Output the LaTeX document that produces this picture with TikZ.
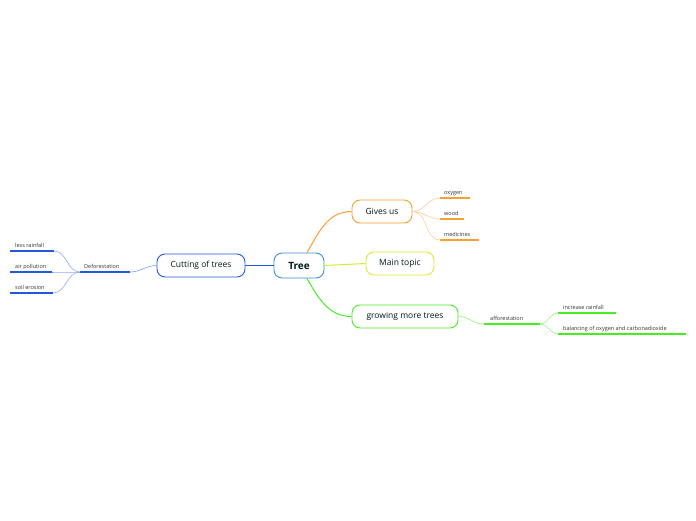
\documentclass[tikz,border=0pt]{standalone}
\usepackage{fontspec}
\setmainfont{Open Sans}
\begin{document}
\begin{tikzpicture}[x=1pt,y=-1pt,
 topic/.style={draw=#1,line width=0.9pt,rounded corners=8pt,fill=white,font=\fontsize{8.5}{10}\selectfont,text=black!80!teal,inner sep=0pt},
 leaf/.style={font=\fontsize{5.5}{7}\selectfont,text=black!80,anchor=base west,inner sep=0pt},
 uline/.style={draw=#1,line width=1.4pt},
 conn/.style={draw=#1,line width=0.6pt}]
\useasboundingbox (0,0) rectangle (696,520);
\definecolor{cb}{HTML}{3C8FD8}\definecolor{co}{HTML}{F5A030}\definecolor{cy}{HTML}{CCEE33}
\definecolor{cg}{HTML}{44EE22}\definecolor{cd}{HTML}{2258E0}
\node[topic=cb,minimum width=50pt,minimum height=25pt,font=\fontsize{10}{12}\selectfont\bfseries] (tree) at (299,265.5) {Tree};
\node[topic=co,minimum width=60pt,minimum height=23pt] (give) at (382,211.5) {Gives us};
\node[topic=cy,minimum width=68pt,minimum height=23pt] (main) at (400,263.5) {Main topic};
\node[topic=cg,minimum width=106pt,minimum height=23pt] (grow) at (405,316.5) {growing more trees};
\node[topic=cd,minimum width=88pt,minimum height=23pt] (cut) at (201,265.5) {Cutting of trees};
% branch to topics
\draw[conn=co,line width=1pt] (tree.north)++(8,0) coordinate (t1) (t1) to[out=60,in=180] (give.west);
\draw[conn=cy,line width=1pt] (tree.east) -- (main.west);
\draw[conn=cg,line width=1pt] (tree.south)++(8,0) coordinate (t2) (t2) to[out=-60,in=180] (grow.west);
\draw[conn=cd,line width=1pt] (tree.west) to[out=180,in=0] (cut.east);
% Gives us leaves
\foreach \n/\t/\y/\e in {ox/oxygen/198/470,wo/wood/219/464,me/medicines/240/479}{
 \coordinate (\n a) at (440,\y); \coordinate (\n b) at (\e,\y);
 \node[leaf] (\n) at (444,\y-4) {\t};
 \draw[conn=co!50] (give.east) to[out=0,in=180] (\n a);
 \draw[uline=co] (\n a) -- (\n b);}
% afforestation
\coordinate (afa) at (484,324); \coordinate (afb) at (540,324);
\node[leaf] (af) at (490,320) {afforestation};
\draw[conn=cg!60] (grow.east) to[out=0,in=180] (afa);
\draw[uline=cg] (afa) -- (afb);
\foreach \n/\t/\y/\e in {ir/increase rainfall/313/616,bo/balancing of oxygen and carbonadioxide/334/686}{
 \coordinate (\n a) at (558,\y); \coordinate (\n b) at (\e,\y);
 \node[leaf] (\n) at (563,\y-4) {\t};
 \draw[conn=cg!60] (afb) to[out=0,in=180] (\n a);
 \draw[uline=cg] (\n a) -- (\n b);}
% deforestation
\coordinate (dfa) at (130,272); \coordinate (dfb) at (80,272);
\node[leaf] (df) at (84,268) {Deforestation};
\draw[conn=cd!60] (cut.west) to[out=180,in=0] (dfa);
\draw[uline=cd] (dfa) -- (dfb);
\foreach \n/\t/\y/\e in {lr/less rainfall/251/54,ap/air pollution/272/52,se/soil erosion/293/53}{
 \coordinate (\n a) at (\e,\y); \coordinate (\n b) at (10,\y);
 \node[leaf] (\n) at (15,\y-4) {\t};
 \draw[conn=cd!50] (dfb) to[out=180,in=0] (\n a);
 \draw[uline=cd] (\n a) -- (\n b);}
\end{tikzpicture}
\end{document}
